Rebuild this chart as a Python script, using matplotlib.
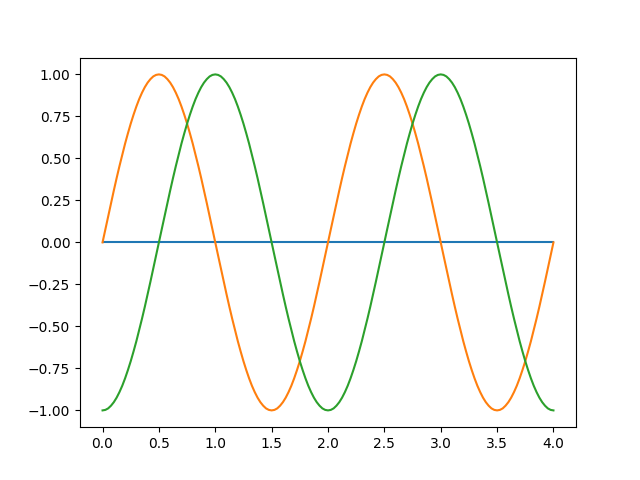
import matplotlib
matplotlib.use("Agg")
import matplotlib.pyplot as plt

# sample positions read along the x axis
x = [0.000, 0.025, 0.050, 0.075, 0.100, 0.125, 0.150, 0.175, 0.200, 0.225,
     0.250, 0.275, 0.300, 0.325, 0.350, 0.375, 0.400, 0.425, 0.450, 0.475,
     0.500, 0.525, 0.550, 0.575, 0.600, 0.625, 0.650, 0.675, 0.700, 0.725,
     0.750, 0.775, 0.800, 0.825, 0.850, 0.875, 0.900, 0.925, 0.950, 0.975,
     1.000, 1.025, 1.050, 1.075, 1.100, 1.125, 1.150, 1.175, 1.200, 1.225,
     1.250, 1.275, 1.300, 1.325, 1.350, 1.375, 1.400, 1.425, 1.450, 1.475,
     1.500, 1.525, 1.550, 1.575, 1.600, 1.625, 1.650, 1.675, 1.700, 1.725,
     1.750, 1.775, 1.800, 1.825, 1.850, 1.875, 1.900, 1.925, 1.950, 1.975,
     2.000, 2.025, 2.050, 2.075, 2.100, 2.125, 2.150, 2.175, 2.200, 2.225,
     2.250, 2.275, 2.300, 2.325, 2.350, 2.375, 2.400, 2.425, 2.450, 2.475,
     2.500, 2.525, 2.550, 2.575, 2.600, 2.625, 2.650, 2.675, 2.700, 2.725,
     2.750, 2.775, 2.800, 2.825, 2.850, 2.875, 2.900, 2.925, 2.950, 2.975,
     3.000, 3.025, 3.050, 3.075, 3.100, 3.125, 3.150, 3.175, 3.200, 3.225,
     3.250, 3.275, 3.300, 3.325, 3.350, 3.375, 3.400, 3.425, 3.450, 3.475,
     3.500, 3.525, 3.550, 3.575, 3.600, 3.625, 3.650, 3.675, 3.700, 3.725,
     3.750, 3.775, 3.800, 3.825, 3.850, 3.875, 3.900, 3.925, 3.950, 3.975,
     4.000]

# flat blue line
blue_x = [0.0, 4.0]
blue_y = [0.0, 0.0]

# orange curve
orange = [0.000, 0.078, 0.156, 0.233, 0.309, 0.383, 0.454, 0.522, 0.588, 0.649,
          0.707, 0.760, 0.809, 0.853, 0.891, 0.924, 0.951, 0.972, 0.988, 0.997,
          1.000, 0.997, 0.988, 0.972, 0.951, 0.924, 0.891, 0.853, 0.809, 0.760,
          0.707, 0.649, 0.588, 0.522, 0.454, 0.383, 0.309, 0.233, 0.156, 0.078,
          0.000, -0.078, -0.156, -0.233, -0.309, -0.383, -0.454, -0.522, -0.588, -0.649,
          -0.707, -0.760, -0.809, -0.853, -0.891, -0.924, -0.951, -0.972, -0.988, -0.997,
          -1.000, -0.997, -0.988, -0.972, -0.951, -0.924, -0.891, -0.853, -0.809, -0.760,
          -0.707, -0.649, -0.588, -0.522, -0.454, -0.383, -0.309, -0.233, -0.156, -0.078,
          0.000, 0.078, 0.156, 0.233, 0.309, 0.383, 0.454, 0.522, 0.588, 0.649,
          0.707, 0.760, 0.809, 0.853, 0.891, 0.924, 0.951, 0.972, 0.988, 0.997,
          1.000, 0.997, 0.988, 0.972, 0.951, 0.924, 0.891, 0.853, 0.809, 0.760,
          0.707, 0.649, 0.588, 0.522, 0.454, 0.383, 0.309, 0.233, 0.156, 0.078,
          0.000, -0.078, -0.156, -0.233, -0.309, -0.383, -0.454, -0.522, -0.588, -0.649,
          -0.707, -0.760, -0.809, -0.853, -0.891, -0.924, -0.951, -0.972, -0.988, -0.997,
          -1.000, -0.997, -0.988, -0.972, -0.951, -0.924, -0.891, -0.853, -0.809, -0.760,
          -0.707, -0.649, -0.588, -0.522, -0.454, -0.383, -0.309, -0.233, -0.156, -0.078,
          0.000]

# green curve
green = [-1.000, -0.997, -0.988, -0.972, -0.951, -0.924, -0.891, -0.853, -0.809, -0.760,
         -0.707, -0.649, -0.588, -0.522, -0.454, -0.383, -0.309, -0.233, -0.156, -0.078,
         0.000, 0.078, 0.156, 0.233, 0.309, 0.383, 0.454, 0.522, 0.588, 0.649,
         0.707, 0.760, 0.809, 0.853, 0.891, 0.924, 0.951, 0.972, 0.988, 0.997,
         1.000, 0.997, 0.988, 0.972, 0.951, 0.924, 0.891, 0.853, 0.809, 0.760,
         0.707, 0.649, 0.588, 0.522, 0.454, 0.383, 0.309, 0.233, 0.156, 0.078,
         0.000, -0.078, -0.156, -0.233, -0.309, -0.383, -0.454, -0.522, -0.588, -0.649,
         -0.707, -0.760, -0.809, -0.853, -0.891, -0.924, -0.951, -0.972, -0.988, -0.997,
         -1.000, -0.997, -0.988, -0.972, -0.951, -0.924, -0.891, -0.853, -0.809, -0.760,
         -0.707, -0.649, -0.588, -0.522, -0.454, -0.383, -0.309, -0.233, -0.156, -0.078,
         0.000, 0.078, 0.156, 0.233, 0.309, 0.383, 0.454, 0.522, 0.588, 0.649,
         0.707, 0.760, 0.809, 0.853, 0.891, 0.924, 0.951, 0.972, 0.988, 0.997,
         1.000, 0.997, 0.988, 0.972, 0.951, 0.924, 0.891, 0.853, 0.809, 0.760,
         0.707, 0.649, 0.588, 0.522, 0.454, 0.383, 0.309, 0.233, 0.156, 0.078,
         0.000, -0.078, -0.156, -0.233, -0.309, -0.383, -0.454, -0.522, -0.588, -0.649,
         -0.707, -0.760, -0.809, -0.853, -0.891, -0.924, -0.951, -0.972, -0.988, -0.997,
         -1.000]

fig = plt.figure(figsize=(6.4, 4.8), dpi=100)
plt.plot(blue_x, blue_y)
plt.plot(x, orange)
plt.plot(x, green)
plt.savefig("out.png")
